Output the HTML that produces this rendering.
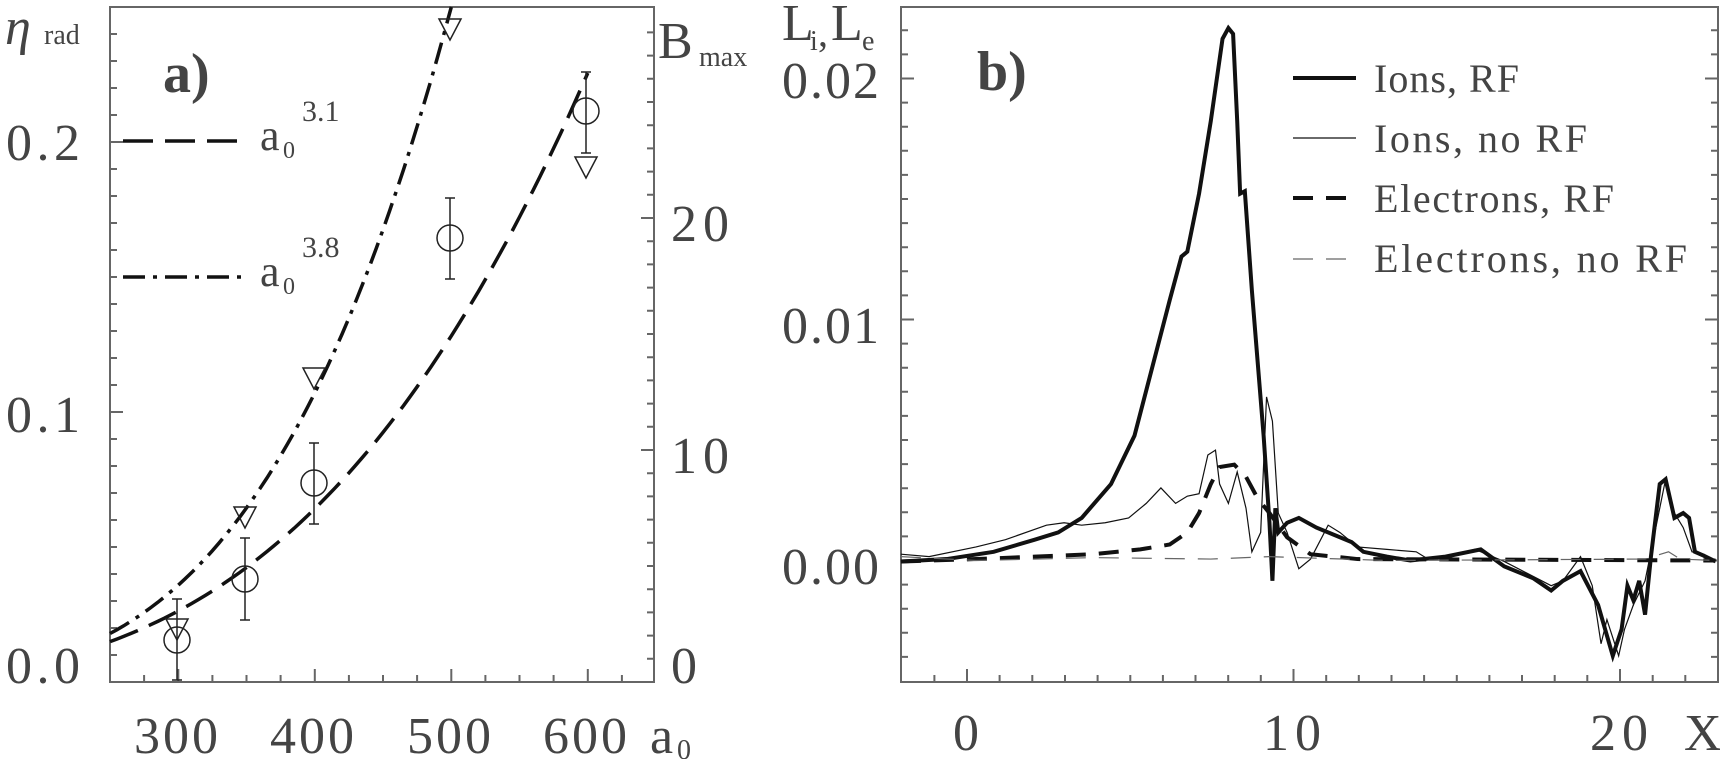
<!DOCTYPE html>
<html><head><meta charset="utf-8"><style>
html,body{margin:0;padding:0;background:#fff;}
svg{display:block;}
text{font-family:"Liberation Serif",serif;fill:#444;}
</style></head><body>
<svg id="s" width="1720" height="759" viewBox="0 0 1720 759" xmlns="http://www.w3.org/2000/svg">
<g id="ticks" stroke="#666" stroke-width="2" fill="none"></g>
<rect x="110" y="7" width="544" height="675" fill="none" stroke="#666" stroke-width="2"/>
<rect x="901" y="7" width="817" height="675" fill="none" stroke="#666" stroke-width="2"/>

<text x="5" y="44" font-size="52" font-style="italic" fill="#333">η</text>
<text x="44" y="44" font-size="28">rad</text>
<text x="163" y="92" font-size="56" font-weight="bold" fill="#111">a)</text>
<text x="6" y="160" font-size="52" textLength="74">0.2</text>
<text x="6" y="432" font-size="52" textLength="74">0.1</text>
<text x="6" y="683" font-size="52" textLength="74">0.0</text>
<text x="671" y="241" font-size="52" textLength="58">20</text>
<text x="671" y="473" font-size="52" textLength="58">10</text>
<text x="671" y="683" font-size="52" textLength="29">0</text>
<text x="658" y="58" font-size="52">B</text>
<text x="699" y="66" font-size="28">max</text>
<text x="134" y="753" font-size="52" textLength="84">300</text>
<text x="270" y="753" font-size="52" textLength="84">400</text>
<text x="407" y="753" font-size="52" textLength="84">500</text>
<text x="543" y="753" font-size="52" textLength="84">600</text>
<text x="650" y="753" font-size="52">a</text>
<text x="677" y="759" font-size="28">0</text>
<line x1="123" y1="141" x2="247" y2="141" stroke="#111" stroke-width="3.5" stroke-dasharray="30,12"/>
<text x="260" y="150" font-size="44">a</text>
<text x="283" y="158" font-size="24">0</text>
<text x="302" y="121" font-size="30">3.1</text>
<line x1="123" y1="277" x2="247" y2="277" stroke="#111" stroke-width="3.5" stroke-dasharray="22,8,4,8"/>
<text x="260" y="286" font-size="44">a</text>
<text x="283" y="294" font-size="24">0</text>
<text x="302" y="257" font-size="30">3.8</text>

<polyline id="c31" fill="none" stroke="#111" stroke-width="3.5" stroke-dasharray="30,12" points=""/>
<polyline id="c38" fill="none" stroke="#111" stroke-width="3.5" stroke-dasharray="22,8,4,8" points=""/>
<g stroke="#222" stroke-width="1.5" fill="none">
<path d="M177,599V680M172,599h10M172,680h10"/>
<path d="M245,538V620M240,538h10M240,620h10"/>
<path d="M314,443V524M309,443h10M309,524h10"/>
<path d="M450,198V279M445,198h10M445,279h10"/>
<path d="M586,72V153M581,72h10M581,153h10"/>
<circle cx="177" cy="640" r="13"/><circle cx="245" cy="579" r="13"/><circle cx="314" cy="483" r="13"/><circle cx="450" cy="238" r="13"/><circle cx="586" cy="111" r="13"/>
<path d="M166,619h22l-11,21z"/>
<path d="M234,507h22l-11,21z"/>
<path d="M303,368h22l-11,21z"/>
<path d="M439,19h22l-11,21z"/>
<path d="M575,157h22l-11,21z"/>
</g>

<text x="782" y="40" font-size="52">L</text>
<text x="810" y="50" font-size="28">i</text>
<text x="818" y="46" font-size="40">,</text>
<text x="831" y="40" font-size="52">L</text>
<text x="862" y="50" font-size="28">e</text>
<text x="977" y="90" font-size="56" font-weight="bold" fill="#111">b)</text>
<text x="782" y="98" font-size="52" textLength="97">0.02</text>
<text x="782" y="343" font-size="52" textLength="97">0.01</text>
<text x="782" y="584" font-size="52" textLength="97">0.00</text>
<text x="953" y="750" font-size="52" textLength="29">0</text>
<text x="1263" y="750" font-size="52" textLength="58">10</text>
<text x="1590" y="750" font-size="52" textLength="58">20</text>
<text x="1684" y="750" font-size="52">X</text>
<line x1="1293" y1="78" x2="1356" y2="78" stroke="#111" stroke-width="4"/>
<line x1="1293" y1="138" x2="1356" y2="138" stroke="#111" stroke-width="1.2"/>
<line x1="1293" y1="198" x2="1356" y2="198" stroke="#111" stroke-width="4" stroke-dasharray="20,13"/>
<line x1="1293" y1="259" x2="1356" y2="259" stroke="#666" stroke-width="1.2" stroke-dasharray="20,13"/>
<text x="1374" y="92" font-size="40" textLength="145">Ions, RF</text>
<text x="1374" y="152" font-size="40" textLength="213">Ions, no RF</text>
<text x="1374" y="212" font-size="40" textLength="240">Electrons, RF</text>
<text x="1374" y="272" font-size="40" textLength="313">Electrons, no RF</text>

<g transform="translate(800,0) scale(0.58685,0.48403)" fill="none">
<polyline vector-effect="non-scaling-stroke" stroke="#111" stroke-width="4" points="172,1160 250,1155 330,1140 400,1115 440,1100 480,1070 530,1000 570,900 600,760 630,620 650,530 660,520 680,400 700,250 720,80 730,58 738,70 745,250 750,400 758,395 770,600 790,900 800,1080 805,1200 810,1050 815,1100 830,1080 850,1070 880,1090 920,1110 940,1120 960,1140 1000,1150 1040,1158 1100,1150 1160,1135 1200,1170 1250,1195 1280,1220 1300,1200 1330,1180 1360,1250 1385,1355 1400,1300 1410,1210 1420,1240 1430,1200 1440,1270 1450,1150 1465,1000 1475,990 1490,1070 1505,1060 1515,1070 1525,1140 1540,1148 1560,1160"/>
<polyline vector-effect="non-scaling-stroke" stroke="#111" stroke-width="1.2" points="172,1145 220,1150 300,1130 350,1115 420,1085 450,1080 480,1085 520,1080 560,1070 590,1040 615,1008 640,1040 660,1025 680,1020 695,940 708,930 715,1000 730,1040 745,975 760,1050 770,1140 785,1100 795,820 805,870 815,1060 830,1100 850,1175 870,1155 900,1085 920,1100 950,1130 1000,1135 1050,1140 1070,1155 1100,1150 1150,1135 1200,1160 1240,1185 1280,1210 1300,1200 1330,1150 1350,1210 1365,1330 1375,1280 1395,1355 1405,1300 1420,1250 1440,1200 1460,1080 1475,990 1490,1060 1505,1090 1520,1140 1540,1145 1560,1160"/>
<polyline vector-effect="non-scaling-stroke" stroke="#111" stroke-width="4" stroke-dasharray="20,13" points="172,1160 300,1155 400,1150 500,1145 580,1135 630,1125 660,1100 680,1060 700,1000 715,965 740,960 760,985 780,1030 800,1060 830,1110 870,1145 950,1155 1560,1158"/>
<polyline vector-effect="non-scaling-stroke" stroke="#666" stroke-width="1.2" stroke-dasharray="20,13" points="172,1150 300,1158 500,1152 700,1155 800,1150 1000,1158 1440,1155 1480,1140 1500,1155 1560,1158"/>
</g>
</svg>
<script>
(function(){
var g=document.getElementById('ticks'),d='';
for(var a=275;a<650;a+=25){var x=110+(a-250)*1.365;var L=(a%100==0)?13:7;d+='M'+x.toFixed(1)+',682v-'+L;}
for(var i=1;i<25;i++){var y=682-i*27;var L=(i%10==0)?13:7;d+='M110,'+y+'h'+L;}
for(var b=1;b<29;b++){var y=682-b*23.2;if(y<10)break;var L=(b%10==0)?13:7;d+='M654,'+y.toFixed(1)+'h-'+L;}
for(var k=-1;k<23;k++){var x=967+k*32.65;var L=(k%10==0)?13:7;d+='M'+x.toFixed(1)+',682v-'+L;}
for(var j=-4;j<=25;j++){var y=560.5-j*24.1;if(y<10||y>678)continue;var L=(j%10==0)?13:7;d+='M901,'+y.toFixed(1)+'h'+L+'M1718,'+y.toFixed(1)+'h-'+L;}
var p=document.createElementNS('http://www.w3.org/2000/svg','path');p.setAttribute('d',d);g.appendChild(p);
function curve(id,p,ref,val,amax){var s='';for(var a=250;a<=amax+0.1;a+=5){var y=682-val*Math.pow(a/ref,p);var x=110+(a-250)*1.365;s+=x.toFixed(1)+','+y.toFixed(1)+' ';}document.getElementById(id).setAttribute('points',s);}
curve('c31',3.1,600,609,604);
curve('c38',3.8,500,675,502);
})();
</script>
</body></html>
